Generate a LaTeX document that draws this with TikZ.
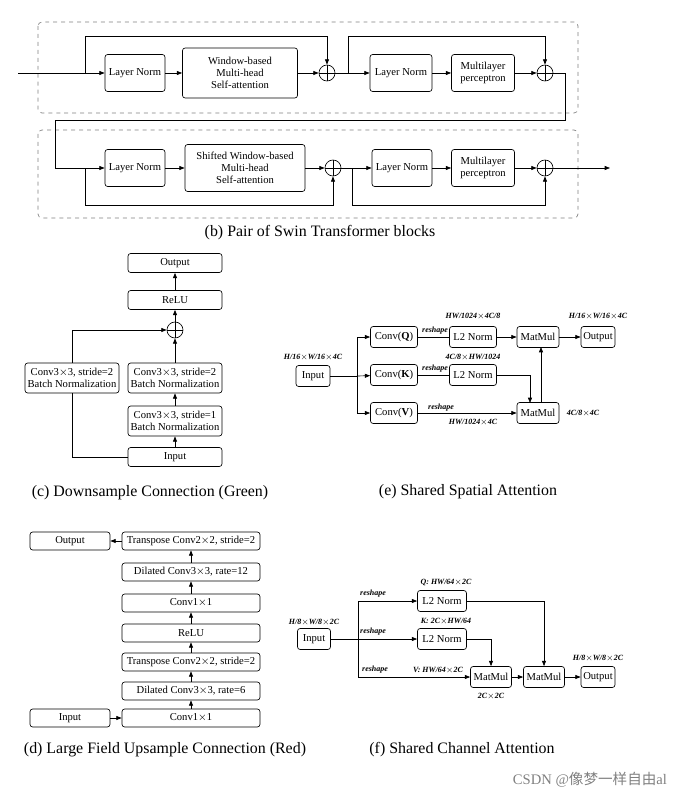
\documentclass[tikz,border=0pt]{standalone}
\usepackage{fontspec}
\setmainfont{Liberation Serif}
\newfontfamily\cjk{Noto Sans CJK SC}
\usetikzlibrary{positioning,arrows.meta,calc}
\tikzset{
  blk/.style={draw, rounded corners=2pt, align=center, font=\fontsize{8}{9}\selectfont, inner sep=1pt},
  dim/.style={font=\fontsize{6}{7}\selectfont\bfseries\itshape},
  captxt/.style={font=\fontsize{12}{14}\selectfont},
  arr/.style={-{Triangle[length=4pt,width=3pt]}},
  oplus/.style={draw, circle, minimum size=16*0.0265cm, inner sep=0pt, path picture={
    \draw (path picture bounding box.north) -- (path picture bounding box.south)
          (path picture bounding box.west) -- (path picture bounding box.east);}},
}
\begin{document}
\begin{tikzpicture}[x=0.0265cm, y=-0.0265cm, line width=0.5pt]
  \useasboundingbox (0,0) rectangle (686,800);

  % (b) Swin blocks
  \draw[dashed, gray, rounded corners=3pt] (38,22) rectangle (578,113);
  \draw[dashed, gray, rounded corners=3pt] (38,130) rectangle (578,218);
  \node[blk, minimum width=60*0.0265cm, minimum height=37*0.0265cm] (ln1) at (135,73) {Layer Norm};
  \node[blk, minimum width=115*0.0265cm, minimum height=50*0.0265cm] (wmsa) at (240,73) {Window-based\\Multi-head\\Self-attention};
  \node[oplus] (p1) at (327,73) {};
  \node[blk, minimum width=62*0.0265cm, minimum height=37*0.0265cm] (ln2) at (401,73) {Layer Norm};
  \node[blk, minimum width=63*0.0265cm, minimum height=37*0.0265cm] (mlp1) at (483,73) {Multilayer\\perceptron};
  \node[oplus] (p2) at (545,73) {};
  \coordinate (in) at (18,73);
  \draw[arr] (in) -- (ln1);
  \draw[arr] (ln1) -- (wmsa);
  \draw[arr] (wmsa) -- (p1);
  \draw[arr] (p1) -- (ln2);
  \draw[arr] (ln2) -- (mlp1);
  \draw[arr] (mlp1) -- (p2);
  \draw[arr] (85,73) |- (327,36) -- (p1);
  \draw[arr] (348,73) |- (545,36) -- (p2);

  \node[blk, minimum width=60*0.0265cm, minimum height=37*0.0265cm] (ln3) at (135,168) {Layer Norm};
  \node[blk, minimum width=120*0.0265cm, minimum height=47*0.0265cm] (swmsa) at (245,168) {Shifted Window-based\\Multi-head\\Self-attention};
  \node[oplus] (p3) at (333,168) {};
  \node[blk, minimum width=60*0.0265cm, minimum height=37*0.0265cm] (ln4) at (402,168) {Layer Norm};
  \node[blk, minimum width=63*0.0265cm, minimum height=37*0.0265cm] (mlp2) at (483,168) {Multilayer\\perceptron};
  \node[oplus] (p4) at (545,168) {};
  \coordinate (out) at (610,168);
  \draw[arr] (p2) -- (565,73) |- (55,120) |- (ln3);
  \draw[arr] (ln3) -- (swmsa);
  \draw[arr] (swmsa) -- (p3);
  \draw[arr] (p3) -- (ln4);
  \draw[arr] (ln4) -- (mlp2);
  \draw[arr] (mlp2) -- (p4);
  \draw[arr] (p4) -- (out);
  \draw[arr] (85,168) |- (333,205) -- (p3);
  \draw[arr] (352,168) |- (545,205) -- (p4);
  \node[captxt] (capb) at (320,233) {(b) Pair of Swin Transformer blocks};

  % (c) Downsample connection
  \tikzset{cbox/.style={blk, minimum width=94*0.0265cm, minimum height=19*0.0265cm}}
  \node[cbox] (cout) at (175,263) {Output};
  \node[cbox] (crelu) at (175,300) {ReLU};
  \node[oplus] (cplus) at (175,330) {};
  \node[cbox, minimum height=30*0.0265cm] (cleft) at (72,378) {Conv3$\times$3, stride=2\\Batch Normalization};
  \node[cbox, minimum height=30*0.0265cm] (cright) at (175,378) {Conv3$\times$3, stride=2\\Batch Normalization};
  \node[cbox, minimum height=30*0.0265cm] (cthird) at (175,421) {Conv3$\times$3, stride=1\\Batch Normalization};
  \node[cbox] (cin) at (175,457) {Input};
  \draw[arr] (cin) -- (cthird);
  \draw[arr] (cthird) -- (cright);
  \draw[arr] (cright) -- (cplus);
  \draw[arr] (cplus) -- (crelu);
  \draw[arr] (crelu) -- (cout);
  \draw (cin.west) -| (cleft.south);
  \draw[arr] (cleft.north) |- (cplus);
  \node[captxt] (capc) at (150,493) {(c) Downsample Connection (Green)};

  % (e) Shared spatial attention
  \tikzset{ebox/.style={blk, minimum width=42*0.0265cm, minimum height=21*0.0265cm}}
  \node[ebox, minimum width=34*0.0265cm] (ein) at (313,376) {Input};
  \node[ebox, minimum width=47*0.0265cm] (eq) at (394,337) {Conv(\textbf{Q})};
  \node[ebox, minimum width=47*0.0265cm] (ek) at (394,375) {Conv(\textbf{K})};
  \node[ebox, minimum width=47*0.0265cm] (ev) at (394,413) {Conv(\textbf{V})};
  \node[ebox, minimum width=47*0.0265cm] (el1) at (473,337) {L2 Norm};
  \node[ebox, minimum width=47*0.0265cm] (el2) at (473,375) {L2 Norm};
  \node[ebox] (em1) at (538,337) {MatMul};
  \node[ebox] (em2) at (538,413) {MatMul};
  \node[ebox, minimum width=34*0.0265cm] (eout) at (598,337) {Output};
  \draw (ein) -- (357,376);
  \draw[arr] (357,376) |- (eq);
  \draw[arr] (357,376) -- (ek);
  \draw[arr] (357,376) |- (ev);
  \draw (eq) -- (el1);
  \draw (ek) -- (el2);
  \draw[arr] (ev) -- (em2);
  \draw[arr] (el1) -- (em1);
  \draw[arr] (el2.east) -| (530,403);
  \draw[arr] (541,403) -- (541,347);
  \draw[arr] (em1) -- (eout);
  \node[dim] (d1) at (313,357) {H/16$\times$W/16$\times$4C};
  \node[dim] (d2) at (435,331) {reshape};
  \node[dim] (d3) at (473,316) {HW/1024$\times$4C/8};
  \node[dim] (d4) at (435,369) {reshape};
  \node[dim] (d5) at (473,357) {4C/8$\times$HW/1024};
  \node[dim] (d6) at (441,408) {reshape};
  \node[dim] (d7) at (473,422) {HW/1024$\times$4C};
  \node[dim] (d8) at (583,413) {4C/8$\times$4C};
  \node[dim] (d9) at (598,316) {H/16$\times$W/16$\times$4C};
  \node[captxt] (cape) at (468,492) {(e) Shared Spatial Attention};

  % (d) Large field upsample connection
  \tikzset{dbox/.style={blk, minimum width=138*0.0265cm, minimum height=18*0.0265cm}}
  \node[dbox] (d_tc1) at (191,541) {Transpose Conv2$\times$2, stride=2};
  \node[dbox] (d_dc1) at (191,572) {Dilated Conv3$\times$3, rate=12};
  \node[dbox] (d_c1) at (191,603) {Conv1$\times$1};
  \node[dbox] (d_relu) at (191,633) {ReLU};
  \node[dbox] (d_tc2) at (191,662) {Transpose Conv2$\times$2, stride=2};
  \node[dbox] (d_dc2) at (191,691) {Dilated Conv3$\times$3, rate=6};
  \node[dbox] (d_c2) at (191,718) {Conv1$\times$1};
  \node[blk, minimum width=80*0.0265cm, minimum height=18*0.0265cm] (dout) at (70,541) {Output};
  \node[blk, minimum width=80*0.0265cm, minimum height=18*0.0265cm] (din) at (70,718) {Input};
  \draw[arr] (din) -- (d_c2);
  \draw[arr] (d_c2) -- (d_dc2);
  \draw[arr] (d_dc2) -- (d_tc2);
  \draw[arr] (d_tc2) -- (d_relu);
  \draw[arr] (d_relu) -- (d_c1);
  \draw[arr] (d_c1) -- (d_dc1);
  \draw[arr] (d_dc1) -- (d_tc1);
  \draw[arr] (d_tc1) -- (dout);
  \node[captxt] (capd) at (165,750) {(d) Large Field Upsample Connection (Red)};

  % (f) Shared channel attention
  \tikzset{fbox/.style={blk, minimum width=41*0.0265cm, minimum height=21*0.0265cm}}
  \node[fbox, minimum width=33*0.0265cm] (fin) at (314,639) {Input};
  \node[fbox, minimum width=49*0.0265cm] (fl1) at (442,601) {L2 Norm};
  \node[fbox, minimum width=49*0.0265cm] (fl2) at (442,639) {L2 Norm};
  \node[fbox] (fm1) at (491,677) {MatMul};
  \node[fbox] (fm2) at (544,677) {MatMul};
  \node[fbox, minimum width=34*0.0265cm] (fout) at (598,677) {Output};
  \draw (fin) -- (358,639);
  \draw[arr] (358,639) |- (fl1);
  \draw[arr] (358,639) -- (fl2);
  \draw[arr] (358,639) |- (fm1);
  \draw[arr] (fl2.east) -| (fm1.north);
  \draw[arr] (fl1.east) -| (fm2.north);
  \draw[arr] (fm1) -- (fm2);
  \draw[arr] (fm2) -- (fout);
  \node[dim] (f1) at (314,622) {H/8$\times$W/8$\times$2C};
  \node[dim] (f2) at (373,594) {reshape};
  \node[dim] (f3) at (373,632) {reshape};
  \node[dim] (f4) at (375,670) {reshape};
  \node[dim] (f5) at (446,583) {Q: HW/64$\times$2C};
  \node[dim] (f6) at (446,621) {K: 2C$\times$HW/64};
  \node[dim] (f7) at (438,670) {V: HW/64$\times$2C};
  \node[dim] (f8) at (491,696) {2C$\times$2C};
  \node[dim] (f9) at (598,658) {H/8$\times$W/8$\times$2C};
  \node[captxt] (capf) at (462,750) {(f) Shared Channel Attention};

  \node[font=\fontsize{11}{12}\selectfont, text=gray] (wm) at (590,780) {CSDN @{\cjk 像梦一样自由}al};
\end{tikzpicture}
\end{document}
